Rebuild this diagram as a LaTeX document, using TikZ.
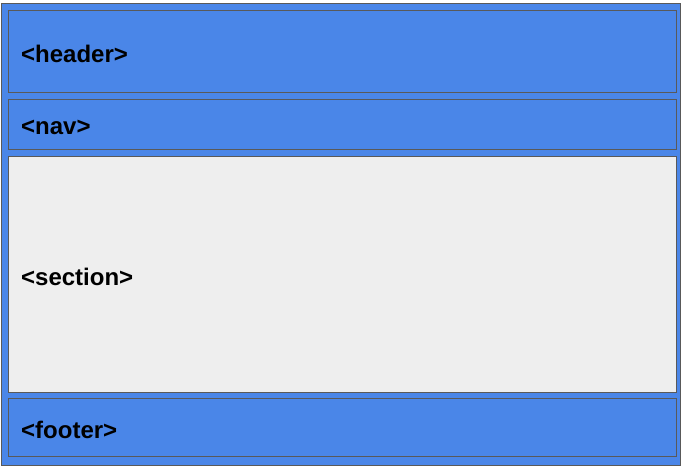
\documentclass[tikz,border=0pt]{standalone}
\usepackage{fontspec}
\setmainfont{Liberation Sans}
\definecolor{blk}{HTML}{4A86E8}
\definecolor{sec}{HTML}{EEEEEE}
\definecolor{bord}{HTML}{595959}
\begin{document}
\begin{tikzpicture}[x=1pt,y=-1pt,
  box/.style={draw=bord,line width=1.4pt},
  lbl/.style={anchor=west,inner sep=0pt,font=\fontsize{24}{27}\selectfont\bfseries}]
\useasboundingbox (0,0) rectangle (686,469);
\fill[white] (0,0) rectangle (686,469);
\draw[box,fill=blk] (1.5,3.5) rectangle (680.5,465.5);
\draw[box,fill=blk] (8.5,10.5) rectangle (676.5,92.5);
\draw[box,fill=blk] (8.5,99.5) rectangle (676.5,149.5);
\draw[box,fill=sec] (8.5,156.5) rectangle (676.5,392.5);
\draw[box,fill=blk] (8.5,398.5) rectangle (676.5,456.5);
\node[lbl] (h) at (21,54) {<header>};
\node[lbl] (n) at (21,127) {<nav>};
\node[lbl] (s) at (21,277) {<section>};
\node[lbl] (f) at (21,430) {<footer>};
\end{tikzpicture}
\end{document}
